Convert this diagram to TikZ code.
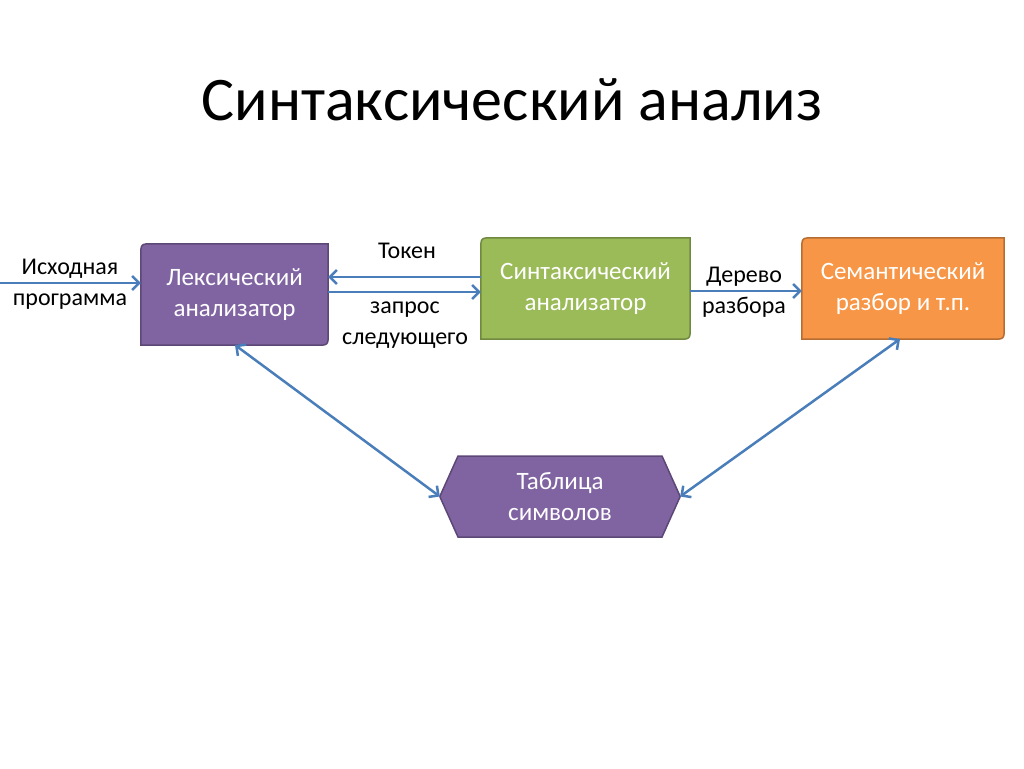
\documentclass[tikz,border=0pt]{standalone}
\usepackage{fontspec}
\setmainfont{Carlito}
\usetikzlibrary{arrows.meta}
\definecolor{pur}{HTML}{8064A2}\definecolor{purd}{HTML}{5C4776}
\definecolor{grn}{HTML}{9BBB59}\definecolor{grnd}{HTML}{71893F}
\definecolor{org}{HTML}{F79646}\definecolor{orgd}{HTML}{B66D31}
\definecolor{arr}{HTML}{4A7EBB}
\tikzset{
 box/.style={inner sep=0pt,align=center,text=white,font=\fontsize{25}{31}\selectfont},
 lbl/.style={align=center,font=\fontsize{24}{31}\selectfont},
 conn/.style={draw=arr,line width=2.5pt,-{Straight Barb[length=7pt,width=14pt]}},
 dconn/.style={draw=arr,line width=2.5pt,{Straight Barb[length=7pt,width=14pt]}-{Straight Barb[length=7pt,width=14pt]}}
}
\newcommand{\snip}[3]{\filldraw[fill=#2,draw=#3,line width=1.5pt] (#1.south west) -- ([yshift=-12pt]#1.north west) .. controls (#1.north west) .. ([xshift=12pt]#1.north west) -- (#1.north east) -- ([yshift=12pt]#1.south east) .. controls (#1.south east) .. ([xshift=-12pt]#1.south east) -- cycle;}
\begin{document}
\begin{tikzpicture}[x=1pt,y=-1pt]
\useasboundingbox (0,0) rectangle (1024,768);
\node[font=\fontsize{62}{70}\selectfont] (title) at (512,100) {Синтаксический анализ};
\node[box,minimum width=187pt,minimum height=101pt] (lex) at (234.5,294.5) {};
\node[box,minimum width=209pt,minimum height=101pt] (syn) at (585.5,288.5) {};
\node[box,minimum width=202pt,minimum height=101pt] (sem) at (903,288.5) {};
\snip{lex}{pur}{purd}\snip{syn}{grn}{grnd}\snip{sem}{org}{orgd}
\node[box] at (lex) {Лексический\\анализатор};
\node[box] at (syn) {Синтаксический\\анализатор};
\node[box] at (sem) {Семантический\\разбор и т.п.};
\node[box,minimum width=240pt,minimum height=81pt] (tab) at (560,496.5) {};
\filldraw[fill=pur,draw=purd,line width=1.5pt] (tab.west) -- (458,456) -- (662,456) -- (tab.east) -- (662,537) -- (458,537) -- cycle;
\node[box] at (tab) {Таблица\\символов};
\coordinate (in) at (0,283);
\node[lbl] (src) at (70,284) {Исходная\\программа};
\draw[conn] (in) -- (lex.west|-in);
\draw[conn] (syn.west|-0,277) -- (lex.east|-0,277);
\draw[conn] (lex.east|-0,292) -- (syn.west|-0,292);
\node[lbl] (tok) at (407,251) {Токен};
\node[lbl] (req) at (405,325) {запрос\\следующего};
\draw[conn] (syn.east|-0,291) -- (sem.west|-0,291);
\node[lbl] (tree) at (744,292) {Дерево\\разбора};
\draw[dconn] (235,345) -- (tab.west);
\draw[dconn] (900,339) -- (tab.east);
\end{tikzpicture}
\end{document}
